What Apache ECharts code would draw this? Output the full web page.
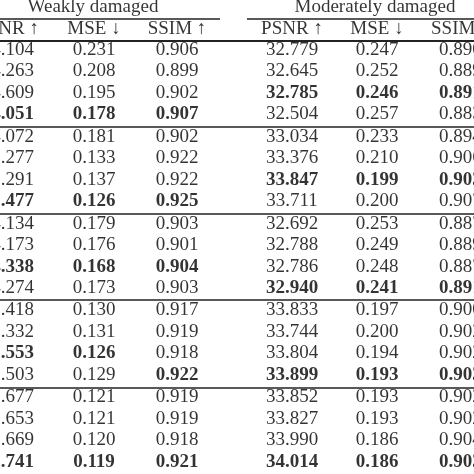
<!DOCTYPE html>
<html>
<head>
<meta charset="utf-8">
<script src="https://cdn.jsdelivr.net/npm/echarts@6/dist/echarts.min.js"></script>
<style>html,body{margin:0;padding:0;background:#fff}#chart{width:474px;height:474px}</style>
</head>
<body>
<div id="chart"></div>
<script>
var groupTitles = ["Weakly damaged", "Moderately damaged"];
var columnHeaders = ["PSNR ↑", "MSE ↓", "SSIM ↑", "PSNR ↑", "MSE ↓", "SSIM ↑"];
var weakPsnr = ["34.104","34.263","34.609","34.051","34.072","35.277","35.291","35.477","34.134","34.173","34.338","34.274","35.418","35.332","35.553","35.503","35.677","35.653","35.669","35.741"];
var weakMse = ["0.231","0.208","0.195","0.178","0.181","0.133","0.137","0.126","0.179","0.176","0.168","0.173","0.130","0.131","0.126","0.129","0.121","0.121","0.120","0.119"];
var weakSsim = ["0.906","0.899","0.902","0.907","0.902","0.922","0.922","0.925","0.903","0.901","0.904","0.903","0.917","0.919","0.918","0.922","0.919","0.919","0.918","0.921"];
var modPsnr = ["32.779","32.645","32.785","32.504","33.034","33.376","33.847","33.711","32.692","32.788","32.786","32.940","33.833","33.744","33.804","33.899","33.852","33.827","33.990","34.014"];
var modMse = ["0.247","0.252","0.246","0.257","0.233","0.210","0.199","0.200","0.253","0.249","0.248","0.241","0.197","0.200","0.194","0.193","0.193","0.193","0.186","0.186"];
var modSsim = ["0.890","0.889","0.891","0.883","0.894","0.906","0.903","0.907","0.887","0.889","0.887","0.891","0.900","0.902","0.902","0.903","0.902","0.902","0.904","0.903"];
// [row, column] of best values (bold)
var boldCells = [[3,0],[3,1],[3,2],[2,3],[2,4],[2,5],[7,0],[7,1],[7,2],[6,3],[6,4],[6,5],
  [10,0],[10,1],[10,2],[11,3],[11,4],[11,5],[14,0],[14,1],[15,2],[15,3],[15,4],[15,5],
  [19,0],[19,1],[19,2],[19,3],[19,4],[19,5]];

var columns = [weakPsnr, weakMse, weakSsim, modPsnr, modMse, modSsim];
var colX = [34, 94, 177, 292, 377, 439];
var colAlign = ["right", "center", "center", "center", "center", "left"];
var headX = [39, 94, 177, 292, 377, 431];
function rowY(i) { return 50 + Math.floor(i / 4) * 86.8 + (i % 4) * 21.5; }
function isBold(r, c) { return boldCells.some(function (b) { return b[0] === r && b[1] === c; }); }

var font = "Liberation Serif";
var series = [];
columns.forEach(function (col, c) {
  series.push({
    type: "scatter", symbolSize: 0, silent: true,
    data: col.map(function (v, r) {
      return {
        value: [colX[c], rowY(r)], name: v,
        label: { fontWeight: isBold(r, c) ? "bold" : "normal" }
      };
    }),
    label: {
      show: true, position: "inside", align: colAlign[c], verticalAlign: "middle",
      formatter: function (p) { return p.name; },
      fontFamily: font, fontSize: 19, color: "#000"
    }
  });
});
series.push({
  type: "scatter", symbolSize: 0, silent: true,
  data: columnHeaders.map(function (h, c) { return { value: [headX[c], 29], name: h, label: { align: colAlign[c] } }; })
    .concat(groupTitles.map(function (t, i) { return { value: [[93, 375][i], 7], name: t, label: { align: "center" } }; })),
  label: {
    show: true, position: "inside", verticalAlign: "middle",
    formatter: function (p) { return p.name; },
    fontFamily: font, fontSize: 19, color: "#000"
  }
});

function hline(x1, x2, y, w) {
  return { type: "line", shape: { x1: x1, y1: y, x2: x2, y2: y }, style: { stroke: "#222", lineWidth: w } };
}
var rules = [hline(0, 220, 19, 1.3), hline(247, 474, 19, 1.3), hline(0, 474, 41, 1.8)];
[127, 214, 300, 388].forEach(function (y) { rules.push(hline(0, 474, y, 1.6)); });

var myChart = echarts.init(document.getElementById("chart"));
myChart.setOption({
  animation: false,
  grid: { left: 0, right: 0, top: 0, bottom: 0 },
  xAxis: { type: "value", min: 0, max: 474, show: false },
  yAxis: { type: "value", min: 0, max: 474, inverse: true, show: false },
  series: series,
  graphic: rules
});
</script>
</body>
</html>
